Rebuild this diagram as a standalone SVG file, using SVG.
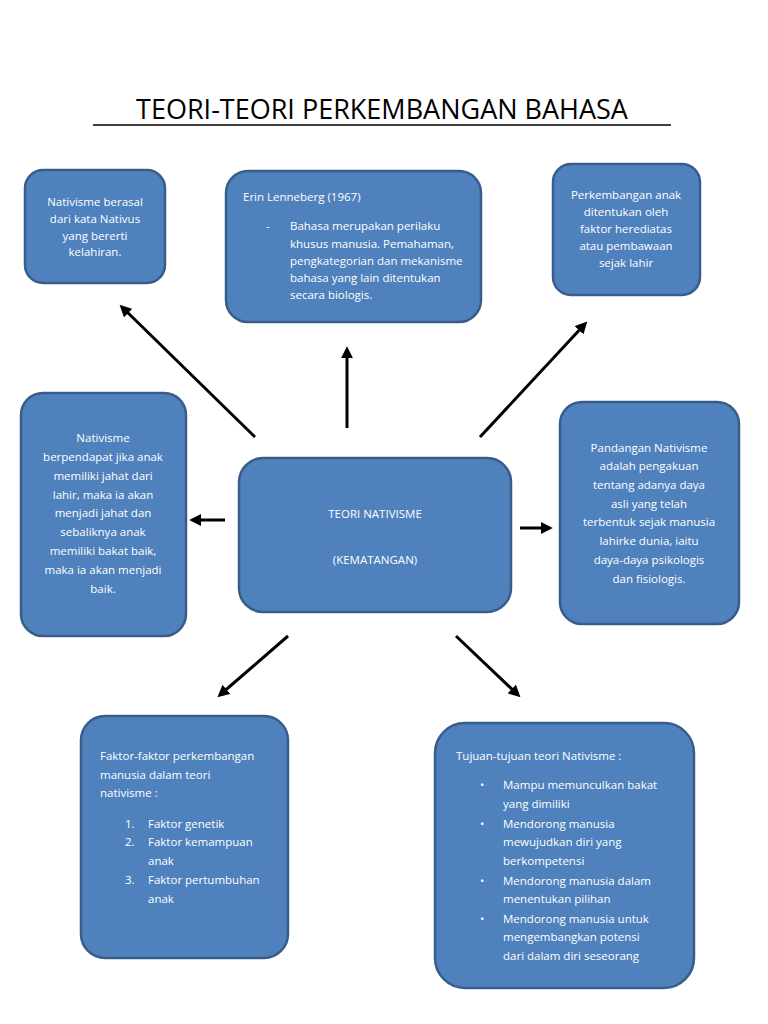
<svg xmlns="http://www.w3.org/2000/svg" width="768" height="1024" viewBox="0 0 768 1024">
<defs>
<style>
.b{fill:#4f81bd;stroke:#385d8a;stroke-width:2.5}
.t{font-family:"Open Sans","Liberation Sans",sans-serif;fill:#fff;font-size:11.5px}
.c{text-anchor:middle}
.a{stroke:#000;stroke-width:3;marker-end:url(#m)}
</style>
<marker id="m" viewBox="0 0 10 10" refX="6" refY="5" markerWidth="4" markerHeight="4" orient="auto"><path d="M0,0L10,5L0,10z" fill="#000"/></marker>
</defs>
<rect width="768" height="1024" fill="#fff"/>
<text x="382" y="119" text-anchor="middle" font-family="Open Sans,Liberation Sans,sans-serif" font-size="27">TEORI-TEORI PERKEMBANGAN BAHASA</text>
<line x1="93" y1="125" x2="671" y2="125" stroke="#000" stroke-width="1.5"/>
<g id="n1"><rect class="b" x="25" y="170" width="140" height="113" rx="18"/>
<text class="t c" font-size="11"><tspan x="95" y="206">Nativisme berasal</tspan><tspan x="95" y="223">dari kata Nativus</tspan><tspan x="95" y="240">yang bererti</tspan><tspan x="95" y="256">kelahiran.</tspan></text></g>
<g id="n2"><rect class="b" x="226" y="171" width="255" height="151" rx="22"/>
<text class="t" font-size="11"><tspan x="243" y="201">Erin Lenneberg (1967)</tspan><tspan x="266" y="230">-</tspan><tspan x="290" y="230">Bahasa merupakan perilaku</tspan><tspan x="290" y="248">khusus manusia. Pemahaman,</tspan><tspan x="290" y="265">pengkategorian dan mekanisme</tspan><tspan x="290" y="282">bahasa yang lain ditentukan</tspan><tspan x="290" y="299">secara biologis.</tspan></text></g>
<g id="n3"><rect class="b" x="553" y="164" width="147" height="131" rx="18"/>
<text class="t c" font-size="11"><tspan x="626" y="199">Perkembangan anak</tspan><tspan x="626" y="216">ditentukan oleh</tspan><tspan x="626" y="233">faktor herediatas</tspan><tspan x="626" y="250">atau pembawaan</tspan><tspan x="626" y="267">sejak lahir</tspan></text></g>
<g id="n4"><rect class="b" x="21" y="393" width="165" height="243" rx="22"/>
<text class="t c"><tspan x="103" y="442">Nativisme</tspan><tspan x="103" y="461">berpendapat jika anak</tspan><tspan x="103" y="480">memiliki jahat dari</tspan><tspan x="103" y="499">lahir, maka ia akan</tspan><tspan x="103" y="517">menjadi jahat dan</tspan><tspan x="103" y="536">sebaliknya anak</tspan><tspan x="103" y="555">memiliki bakat baik,</tspan><tspan x="103" y="574">maka ia akan menjadi</tspan><tspan x="103" y="593">baik.</tspan></text></g>
<g id="n5"><rect class="b" x="239" y="458" width="272" height="154" rx="24"/>
<text class="t c" font-size="21"><tspan x="375" y="518">TEORI NATIVISME</tspan><tspan x="375" y="564">(KEMATANGAN)</tspan></text></g>
<g id="n6"><rect class="b" x="560" y="402" width="179" height="222" rx="22"/>
<text class="t c"><tspan x="649" y="452">Pandangan Nativisme</tspan><tspan x="649" y="470">adalah pengakuan</tspan><tspan x="649" y="489">tentang adanya daya</tspan><tspan x="649" y="508">asli yang telah</tspan><tspan x="649" y="526">terbentuk sejak manusia</tspan><tspan x="649" y="545">lahirke dunia, iaitu</tspan><tspan x="649" y="564">daya-daya psikologis</tspan><tspan x="649" y="583">dan fisiologis.</tspan></text></g>
<g id="n7"><rect class="b" x="81" y="716" width="207" height="242" rx="24"/>
<text class="t"><tspan x="100" y="760">Faktor-faktor perkembangan</tspan><tspan x="100" y="779">manusia dalam teori</tspan><tspan x="100" y="797">nativisme :</tspan>
<tspan x="125" y="828">1.</tspan><tspan x="148" y="828">Faktor genetik</tspan><tspan x="125" y="846">2.</tspan><tspan x="148" y="846">Faktor kemampuan</tspan><tspan x="148" y="865">anak</tspan><tspan x="125" y="884">3.</tspan><tspan x="148" y="884">Faktor pertumbuhan</tspan><tspan x="148" y="903">anak</tspan></text></g>
<g id="n8"><rect class="b" x="435" y="723" width="259" height="265" rx="30"/>
<text class="t"><tspan x="456" y="760">Tujuan-tujuan teori Nativisme :</tspan>
<tspan x="480" y="789">•</tspan><tspan x="503" y="789">Mampu memunculkan bakat</tspan><tspan x="503" y="808">yang dimiliki</tspan>
<tspan x="480" y="828">•</tspan><tspan x="503" y="828">Mendorong manusia</tspan><tspan x="503" y="846">mewujudkan diri yang</tspan><tspan x="503" y="865">berkompetensi</tspan>
<tspan x="480" y="885">•</tspan><tspan x="503" y="885">Mendorong manusia dalam</tspan><tspan x="503" y="903">menentukan pilihan</tspan>
<tspan x="480" y="923">•</tspan><tspan x="503" y="923">Mendorong manusia untuk</tspan><tspan x="503" y="941">mengembangkan potensi</tspan><tspan x="503" y="960">dari dalam diri seseorang</tspan></text></g>
<g id="connectors">
<line class="a" x1="255" y1="437" x2="123" y2="308"/>
<line class="a" x1="347" y1="428" x2="347" y2="351"/>
<line class="a" x1="480" y1="437" x2="584" y2="325"/>
<line class="a" x1="225" y1="520" x2="194" y2="520"/>
<line class="a" x1="520" y1="528" x2="548" y2="528"/>
<line class="a" x1="288" y1="636" x2="221" y2="694"/>
<line class="a" x1="456" y1="636" x2="517" y2="694"/>
</g>
</svg>
